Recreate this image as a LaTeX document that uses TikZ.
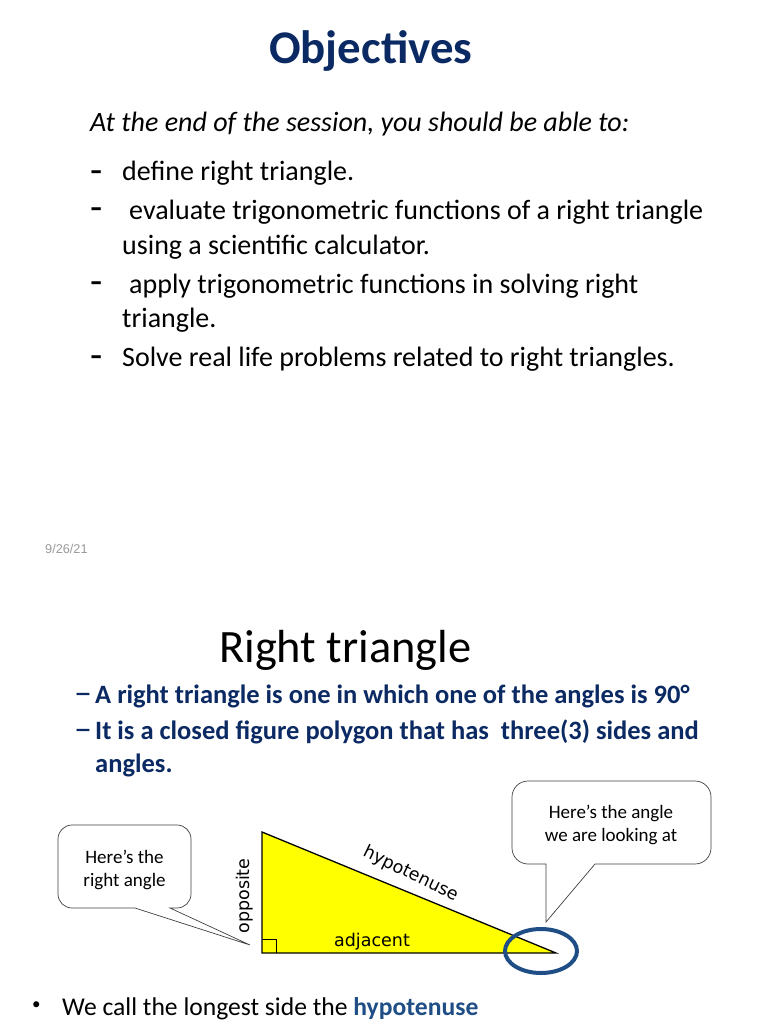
\documentclass[tikz,border=0pt]{standalone}
\usepackage{fontspec}
\setmainfont{Carlito}
\newfontfamily\datefont{Liberation Sans}
\newfontfamily\labelfont{DejaVu Sans}
\definecolor{titlenavy}{HTML}{0B2A63}
\definecolor{ringblue}{HTML}{1F4E86}
\definecolor{triyellow}{HTML}{FFFF00}
\newcommand{\fsize}[1]{\fontsize{#1}{#1}\selectfont}
\tikzset{
	txt/.style     = {inner sep=0pt, anchor=base west},
	body/.style    = {txt, font=\fsize{28}},
	dashmark/.style = {txt, font=\fsize{40}},
	lead/.style    = {txt, font=\fsize{26.5}\bfseries, text=titlenavy},
	note/.style    = {inner sep=0pt, align=center, font=\fsize{19}},
	sidelabel/.style = {inner sep=0pt, font=\labelfont\fsize{17.5}},
	bubble/.style  = {draw=black!75, fill=white, line width=0.7pt},
}
\begin{document}
\begin{tikzpicture}[x=1pt,y=-1pt]
	\useasboundingbox (0,0) rectangle (768,1024);
	\fill[white] (0,0) rectangle (768,1024);
	% first slide
	\node[txt, font=\fsize{46.8}\bfseries, text=titlenavy] (objtitle) at (269,64) {Objectives};
	\node[body, font=\fsize{28}\itshape] (intro) at (90,132) {At the end of the session, you should be able to:};
	\node[dashmark] (dashA) at (90,184) {-};
	\node[body] (itemA) at (122,181) {define right triangle.};
	\node[dashmark] (dashB) at (90,221) {-};
	\node[body] (itemB) at (129,220) {evaluate trigonometric functions of a right triangle};
	\node[body] (itemBb) at (122,254) {using a scientific calculator.};
	\node[dashmark] (dashC) at (90,294) {-};
	\node[body] (itemC) at (129,293) {apply trigonometric functions in solving right};
	\node[body] (itemCb) at (122,327) {triangle.};
	\node[dashmark] (dashD) at (90,368) {-};
	\node[body] (itemD) at (122,366) {Solve real life problems related to right triangles.};
	\node[txt, font=\datefont\fsize{12.7}, text=black!40] (date) at (45,553) {9/26/21};
	% second slide
	\node[txt, font=\fsize{46.4}] (tritle) at (219,662) {Right triangle};
	\node[lead, font=\fsize{36}] (dashE) at (74,704) {–};
	\node[lead] (leadA) at (95,703) {A right triangle is one in which one of the angles is 90°};
	\node[lead, font=\fsize{36}] (dashF) at (74,740) {–};
	\node[lead] (leadB) at (95,739) {It is a closed figure polygon that has\ \ three(3) sides and};
	\node[lead] (leadBb) at (95,772) {angles.};
	% triangle
	\coordinate (top) at (262,832);
	\coordinate (corner) at (262,953);
	\coordinate (tip) at (556,953);
	\draw[fill=triyellow, line width=1.3pt, line join=miter] (top) -- (corner) -- (tip) -- cycle;
	\draw[line width=0.5pt] (262,939) -- (276,939) -- (276,953);
	\node[sidelabel, rotate=90] (opp) at (245,896) {opposite};
	\node[sidelabel, rotate=-26] (hyp) at (411,874) {hypotenuse};
	\node[sidelabel] (adj) at (372,942) {adjacent};
	\draw[ringblue, line width=4pt] (541,951) ellipse (36pt and 22pt);
	% callouts
	\draw[bubble] (170,908) [rounded corners=14pt] -- (191,908) -- (191,825) -- (58,825) -- (58,908) [sharp corners] -- (135,908) -- (250,945) -- cycle;
	\draw[bubble] (595,864) [rounded corners=16pt] -- (711,864) -- (711,781) -- (512,781) -- (512,864) [sharp corners] -- (546,864) -- (546,922) -- cycle;
	\node[note] (noteL) at (124.5,869.5) {Here’s the\\[4pt]right angle};
	\node[note] (noteR) at (611,825) {Here’s the angle\\[4pt]we are looking at};
	% last line
	\node[txt, font=\fsize{17}] (dot) at (32,1009) {•};
	\node[body, font=\fsize{25.6}] (last) at (62,1015) {We call the longest side the \textcolor{ringblue}{\bfseries hypotenuse}};
\end{tikzpicture}
\end{document}
